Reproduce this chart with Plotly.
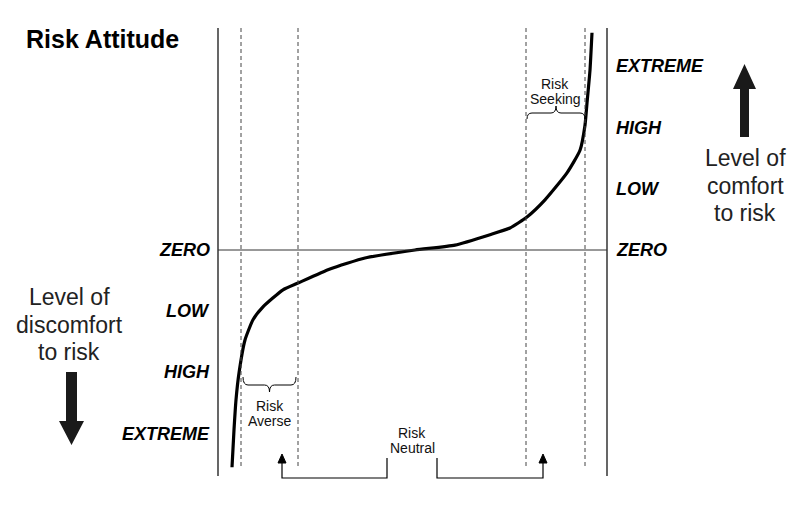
import plotly.graph_objects as go

# --- data ---
title = "Risk Attitude"
level_names = ["ZERO", "LOW", "HIGH", "EXTREME"]
level_values = [0, 1, 2, 3]

# S-curve: horizontal position vs level of comfort (+) / discomfort (-)
curve_x = [232, 234, 236, 239, 245, 253, 263, 283, 298, 330, 365, 415,
           455, 490, 510, 527, 545, 567, 580, 585, 587, 590, 592]
curve_level = [-3.55, -2.94, -2.45, -2.01, -1.47, -1.14, -0.93, -0.65, -0.54,
               -0.31, -0.13, 0.0, 0.08, 0.25, 0.36, 0.54, 0.82, 1.26, 1.63,
               2.04, 2.40, 2.94, 3.55]

frame_x = [218, 607]
zone_x = [241, 298, 526, 585]
zone_names = [["Risk", "Averse"], ["Risk", "Neutral"], ["Risk", "Seeking"]]
left_side_text = ["Level of", "discomfort", "to risk"]
right_side_text = ["Level of", "comfort", "to risk"]

# pixel <-> level helpers
Y0 = 250
PX = 61.2


def lvl(py):
    return (Y0 - py) / PX


fig = go.Figure()

fig.add_trace(go.Scatter(
    x=curve_x, y=curve_level, mode="lines",
    line=dict(color="black", width=3.2, shape="spline", smoothing=0.5),
    hoverinfo="skip", showlegend=False))

shapes = []
# frame lines
for fx in frame_x:
    shapes.append(dict(type="line", xref="x", yref="y", x0=fx, x1=fx,
                       y0=lvl(28), y1=lvl(476),
                       line=dict(color="black", width=1.2)))
# zero line
shapes.append(dict(type="line", xref="x", yref="y", x0=frame_x[0], x1=frame_x[1],
                   y0=0, y1=0, line=dict(color="#333", width=1)))
# dashed zone boundaries
for zx in zone_x:
    shapes.append(dict(type="line", xref="x", yref="y", x0=zx, x1=zx,
                       y0=lvl(28), y1=lvl(469),
                       line=dict(color="#444", width=1, dash="4px,3px")))


def path(pts, close=False):
    s = "M " + " L ".join(f"{x},{lvl(y)}" for x, y in pts)
    return s + (" Z" if close else "")


def brace(x0, x1, ytop, ybar, ytip):
    xc = (x0 + x1) / 2
    return (f"M {x0},{lvl(ytop)} Q {x0},{lvl(ybar)} {x0 + 5},{lvl(ybar)} "
            f"L {xc - 5},{lvl(ybar)} Q {xc},{lvl(ybar)} {xc},{lvl(ytip)} "
            f"Q {xc},{lvl(ybar)} {xc + 5},{lvl(ybar)} "
            f"L {x1 - 5},{lvl(ybar)} Q {x1},{lvl(ybar)} {x1},{lvl(ytop)}")


# Risk Averse brace (point down), Risk Seeking brace (point up)
shapes.append(dict(type="path", xref="x", yref="y",
                   path=brace(243, 296, 377, 385, 392),
                   line=dict(color="black", width=1)))
shapes.append(dict(type="path", xref="x", yref="y",
                   path=brace(527, 585, 119, 113, 106),
                   line=dict(color="black", width=1)))

# Risk Neutral bracket with arrows
shapes.append(dict(type="path", xref="x", yref="y",
                   path=path([(282, 462), (282, 478), (387, 478), (387, 458)]),
                   line=dict(color="black", width=1.2)))
shapes.append(dict(type="path", xref="x", yref="y",
                   path=path([(437, 458), (437, 478), (543, 478), (543, 462)]),
                   line=dict(color="black", width=1.2)))
for ax in (282, 543):
    shapes.append(dict(type="path", xref="x", yref="y",
                       path=path([(ax - 4, 463), (ax, 454), (ax + 4, 463)], close=True),
                       fillcolor="black", line=dict(color="black", width=1)))

# big arrows
shapes.append(dict(type="path", xref="x", yref="y",
                   path=path([(66, 372), (77, 372), (77, 421), (84, 421), (71.5, 445),
                              (59, 421), (66, 421)], close=True),
                   fillcolor="#1a1a1a", line=dict(width=0)))
shapes.append(dict(type="path", xref="x", yref="y",
                   path=path([(740, 137), (749, 137), (749, 89), (756, 89), (744.5, 64),
                              (733, 89), (740, 89)], close=True),
                   fillcolor="#1a1a1a", line=dict(width=0)))

annotations = []
lab_font = dict(family="Liberation Sans, Arial", size=18, color="black")
for name, v in zip(level_names, level_values):
    annotations.append(dict(x=212, y=-v, xref="x", yref="y", text=f"<b><i>{name}</i></b>",
                            showarrow=False, xanchor="right", yanchor="middle", font=lab_font))
    annotations.append(dict(x=614, y=v, xref="x", yref="y", text=f"<b><i>{name}</i></b>",
                            showarrow=False, xanchor="left", yanchor="middle", font=lab_font))

small_font = dict(family="Liberation Sans, Arial", size=14, color="#111")
zone_pos = [(270, 406), (412, 433), (555, 84)]
for (zx, zy), words in zip(zone_pos, zone_names):
    annotations.append(dict(x=zx, y=lvl(zy), xref="x", yref="y", text=words[0],
                            showarrow=False, xanchor="center", yanchor="middle", font=small_font))
    annotations.append(dict(x=zx, y=lvl(zy + 15), xref="x", yref="y", text=words[1],
                            showarrow=False, xanchor="center", yanchor="middle", font=small_font))

big_font = dict(family="Liberation Sans, Arial", size=23, color="#222")
for i, line in enumerate(left_side_text):
    annotations.append(dict(x=69, y=lvl(297 + 27.5 * i), xref="x", yref="y", text=line,
                            showarrow=False, xanchor="center", yanchor="middle", font=big_font))
for i, line in enumerate(right_side_text):
    annotations.append(dict(x=745, y=lvl(158 + 27.5 * i), xref="x", yref="y", text=line,
                            showarrow=False, xanchor="center", yanchor="middle", font=big_font))

annotations.append(dict(x=24, y=lvl(39), xref="x", yref="y", text=f"<b>{title}</b>",
                        showarrow=False, xanchor="left", yanchor="middle",
                        font=dict(family="Liberation Sans, Arial", size=25, color="black")))

fig.update_layout(
    width=800, height=512,
    margin=dict(l=0, r=0, t=0, b=0),
    paper_bgcolor="white", plot_bgcolor="white",
    xaxis=dict(range=[0, 800], visible=False, fixedrange=True),
    yaxis=dict(range=[lvl(512), lvl(0)], visible=False, fixedrange=True),
    shapes=shapes, annotations=annotations,
    showlegend=False,
)

# page body has a default 8px margin; drop it so the figure sits at the corner
fig.write_html("out.html", config={"displayModeBar": False},
               post_script="document.body.style.margin='0';")
